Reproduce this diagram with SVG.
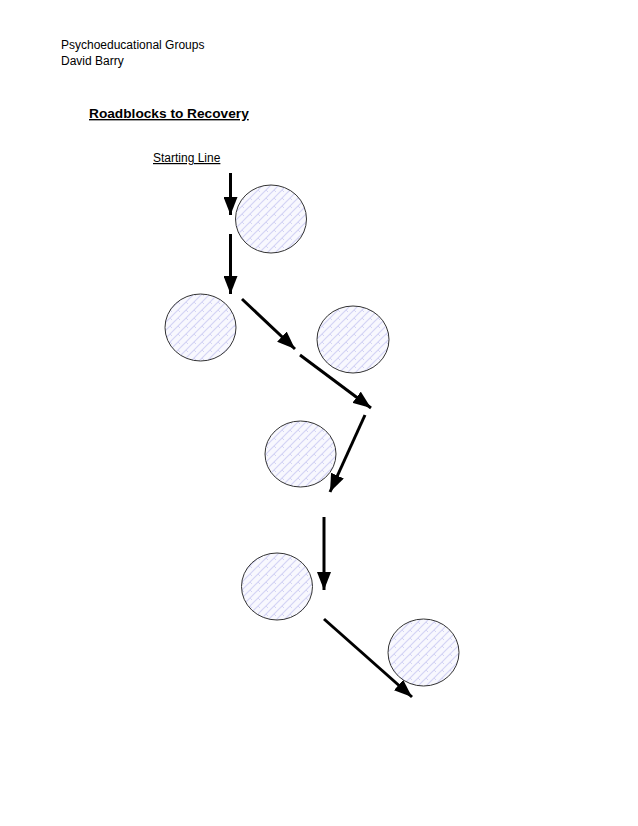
<svg xmlns="http://www.w3.org/2000/svg" width="638" height="826" viewBox="0 0 638 826">
<style>
.t{font-family:"Liberation Sans",Arial,sans-serif;fill:#000}
.node ellipse{fill:url(#hatch);stroke:#333;stroke-width:1}
.conn line{stroke:#000;stroke-width:3;marker-end:url(#ah)}
</style>
<defs>
<pattern id="hatch" patternUnits="userSpaceOnUse" width="8" height="8">
<rect width="8" height="8" fill="#f8f8fe"/>
<path d="M-2,2 L2,-2 M0,8 L8,0 M6,10 L10,6" stroke="#d4d4f5" stroke-width="1.2"/>
<path d="M2,6 L4,8" stroke="#d4d4f5" stroke-width="1"/>
</pattern>
<marker id="ah" markerUnits="userSpaceOnUse" markerWidth="20" markerHeight="14" refX="18" refY="7" orient="auto">
<path d="M0,0 L18,7 L0,14 Z" fill="#000"/>
</marker>
</defs>
<rect width="638" height="826" fill="#fff"/>
<text class="t" x="61" y="49" font-size="12">Psychoeducational Groups</text>
<text class="t" x="61" y="65" font-size="12">David Barry</text>
<text class="t" x="89" y="118" font-size="13.7" font-weight="bold" text-decoration="underline">Roadblocks to Recovery</text>
<text class="t" x="153" y="162" font-size="12" text-decoration="underline">Starting Line</text>
<g id="node1" class="node"><ellipse cx="271" cy="219" rx="35.5" ry="34"/></g>
<g id="node2" class="node"><ellipse cx="200.5" cy="327.5" rx="35.5" ry="33.5"/></g>
<g id="node3" class="node"><ellipse cx="353" cy="339.5" rx="36" ry="33.5"/></g>
<g id="node4" class="node"><ellipse cx="300.5" cy="454" rx="35.5" ry="33"/></g>
<g id="node5" class="node"><ellipse cx="277" cy="586.5" rx="35.5" ry="33.5"/></g>
<g id="node6" class="node"><ellipse cx="423.5" cy="652.5" rx="35.5" ry="33.5"/></g>
<g id="connectors" class="conn">
<line x1="230.5" y1="173" x2="230.5" y2="215"/>
<line x1="230.5" y1="234" x2="230.5" y2="294"/>
<line x1="242" y1="299" x2="295" y2="349"/>
<line x1="300" y1="355" x2="371" y2="408"/>
<line x1="365" y1="415" x2="330" y2="492"/>
<line x1="324" y1="517" x2="324" y2="590"/>
<line x1="324" y1="619" x2="412" y2="697"/>
</g>
</svg>
